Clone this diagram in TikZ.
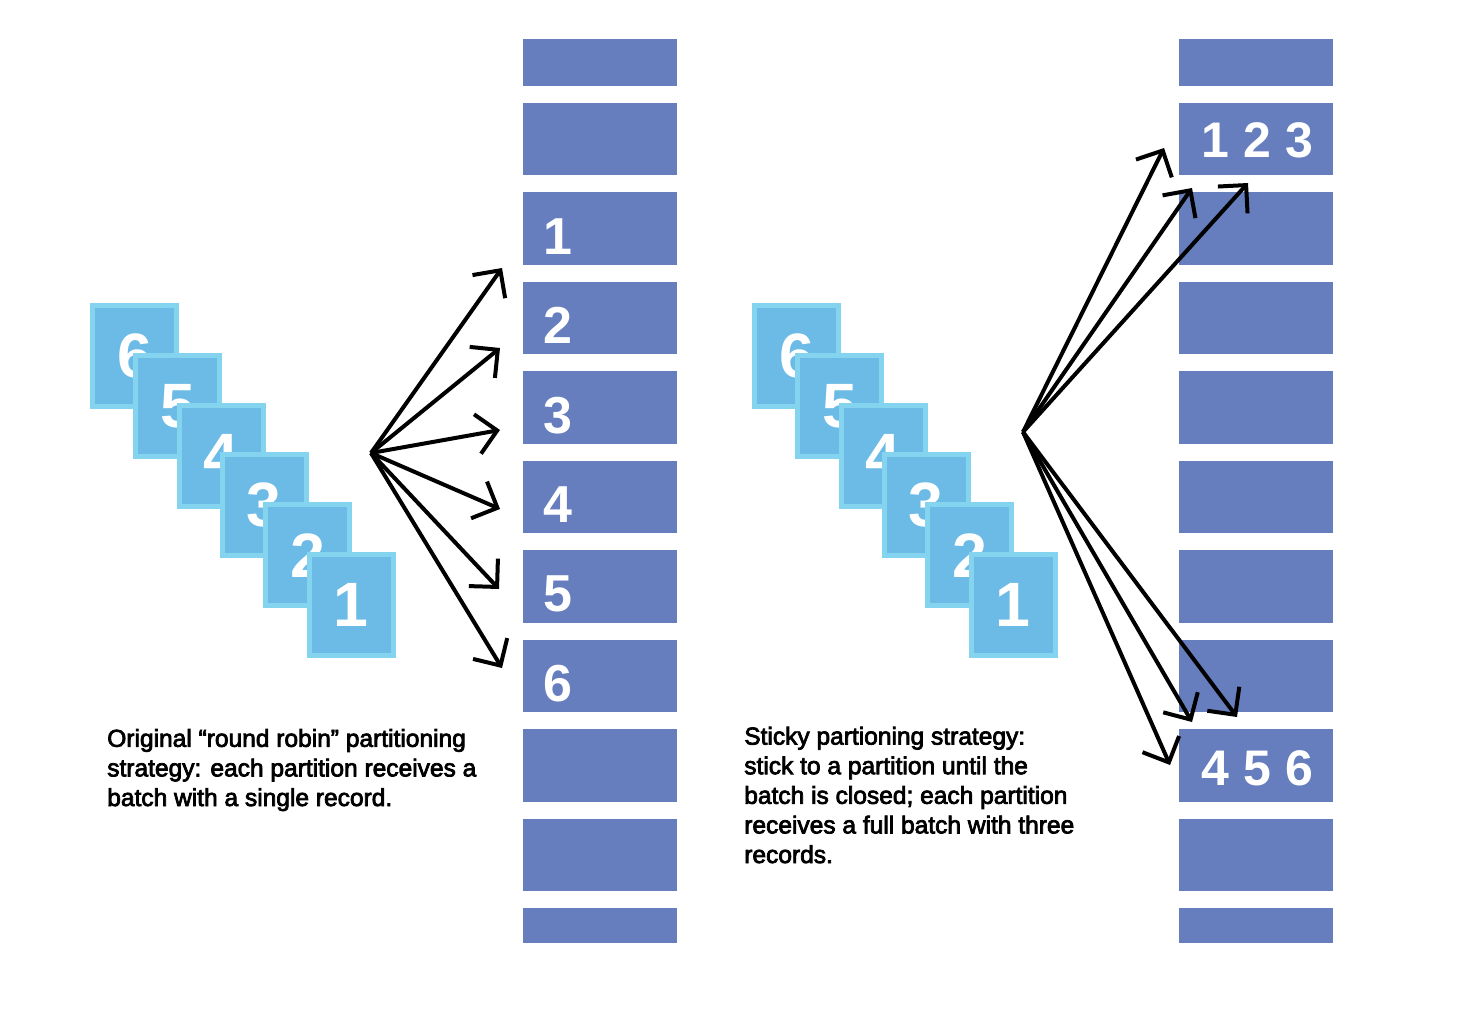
\documentclass[tikz,border=0pt]{standalone}
\usepackage{fontspec}
\setmainfont{Liberation Sans}
\newfontfamily\capfont{Liberation Sans}[FakeBold=3]
\usetikzlibrary{arrows.meta}
\definecolor{barblue}{HTML}{667EBE}
\definecolor{sqfill}{HTML}{6CBBE6}
\definecolor{sqedge}{HTML}{84D4EF}
\begin{document}
\begin{tikzpicture}[x=0.75pt,y=-0.75pt,
  bar/.style={rectangle, fill=barblue, draw=none, minimum width=115.5pt,
    minimum height=54.375pt, inner sep=0pt, outer sep=0pt, anchor=north west},
  barlabel/.style={anchor=base west, inner sep=0pt, text=white,
    font=\bfseries\fontsize{39}{39}\selectfont},
  sq/.style={rectangle, fill=sqfill, draw=sqedge, line width=3.75pt,
    minimum width=63pt, minimum height=75.75pt, inner sep=0pt, text=white,
    font=\bfseries\fontsize{47}{47}\selectfont},
  arr/.style={-{Straight Barb[length=15pt,width=30pt]}, line width=3pt, black},
  captext/.style={anchor=base west, align=left, inner sep=0pt,
    font=\capfont\fontsize{18.4}{22.2}\selectfont}
]
\useasboundingbox (0,0) rectangle (1476,1016);
\fill[white] (0,0) rectangle (1476,1016);

% ---------- partition columns ----------
\foreach \side/\xx in {L/523, R/1179} {
  \node[bar, minimum height=35.25pt] (bar\side0) at (\xx,39) {};
  \foreach \k in {1,...,9} {
    \node[bar] (bar\side\k) at (\xx,{103+89.44*(\k-1)}) {};
  }
  \node[bar, minimum height=26.25pt] (bar\side10) at (\xx,908) {};
}

% labels, left column
\foreach \n in {1,...,6} {
  \pgfmathtruncatemacro{\k}{\n+1}
  \node[barlabel] (lab\n) at ([xshift=15pt, yshift=-46.3pt]barL\k.north west) {\n};
}
% labels, right column
\node[barlabel, font=\bfseries\fontsize{37.5}{37.5}\selectfont]
  (labA) at ([xshift=17pt, yshift=-41.25pt]barR1.north west) {1 2 3};
\node[barlabel, font=\bfseries\fontsize{37.5}{37.5}\selectfont]
  (labB) at ([xshift=17pt, yshift=-42pt]barR8.north west) {4 5 6};

% ---------- record squares ----------
\foreach \side/\dx in {L/0, R/662} {
  \foreach \n in {6,5,4,3,2,1} {
    \node[sq] (sq\side\n) at ({134.5+\dx+43.3*(6-\n)},{356+49.8*(6-\n)}) {\n};
  }
}

% ---------- fan arrows, left ----------
\coordinate (srcL) at (371,453);
\coordinate (tL1) at (502,268);
\coordinate (tL2) at (500,348);
\coordinate (tL3) at (500,430);
\coordinate (tL4) at (500,509);
\coordinate (tL5) at (499,589);
\coordinate (tL6) at (502,668);
\foreach \i in {1,...,6} { \draw[arr] (srcL) -- (tL\i); }

% ---------- fan arrows, right ----------
\coordinate (srcR) at (1023,432);
\coordinate (tR1) at (1164,148);
\coordinate (tR2) at (1192,188);
\coordinate (tR3) at (1248,183);
\coordinate (tR4) at (1192,722);
\coordinate (tR5) at (1237,717);
\coordinate (tR6) at (1170,765);
\foreach \i in {1,...,6} { \draw[arr] (srcR) -- (tR\i); }

% ---------- captions (base anchor = last line's baseline) ----------
\node[captext] (capL) at (107,806) {Original “round robin” partitioning\\strategy: each partition receives a\\batch with a single record.};
\node[captext] (capR) at (744,863) {Sticky partioning strategy:\\stick to a partition until the\\batch is closed; each partition\\receives a full batch with three\\records.};
\end{tikzpicture}
\end{document}
